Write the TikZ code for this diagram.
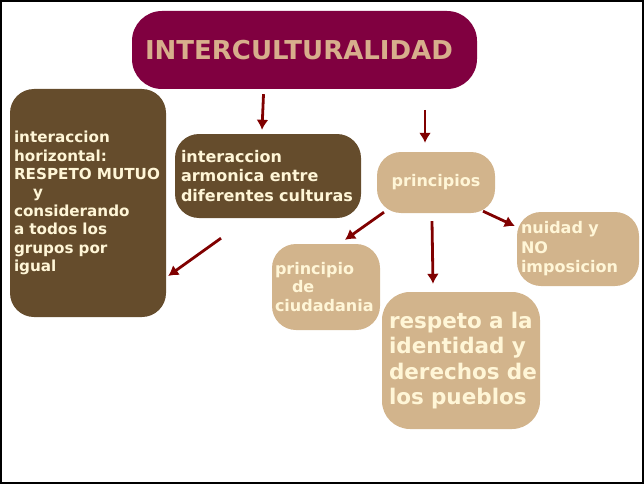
\documentclass[tikz,border=0pt]{standalone}
\usepackage{fontspec}
\setmainfont{DejaVu Sans}
\usepackage{tikz}
\usetikzlibrary{arrows.meta,positioning,calc}

\definecolor{vino}{RGB}{128,0,64}
\definecolor{cafe}{RGB}{101,76,44}
\definecolor{beige}{RGB}{210,180,140}
\definecolor{crema}{RGB}{255,246,215}
\definecolor{durazno}{RGB}{215,174,140}
\definecolor{rojo}{RGB}{128,0,0}

\begin{document}
\begin{tikzpicture}[x=1pt,y=-1pt,
    caja/.style={rounded corners=24pt,text=crema,align=left,inner ysep=0pt,
      font=\bfseries\fontsize{16}{18.5}\selectfont},
    flecha/.style={-{Latex[length=10pt,width=12pt]},line width=2.8pt,draw=rojo}]
    \useasboundingbox (0,0) rectangle (644,484);
    \draw[line width=2pt] (1,1) rectangle (643,483);

    \node[caja,fill=vino,rounded corners=30pt,text=durazno,text width=319pt,inner xsep=13pt,
      minimum height=78pt,font=\bfseries\fontsize{26}{30}\selectfont] at (304.5,50) (tit) {INTERCULTURALIDAD};
    \node[caja,fill=cafe,text width=148pt,inner xsep=4pt,minimum height=228pt,
      font=\bfseries\fontsize{15.2}{18.4}\selectfont] at (88,203) (izq)
      {interaccion\\horizontal:\\\mbox{RESPETO MUTUO}\\\hspace*{19pt}y\\considerando\\a todos los\\grupos por\\igual\\[8pt]};
    \node[caja,fill=cafe,text width=174pt,inner xsep=6pt,minimum height=84pt,
      font=\bfseries\fontsize{16}{19.2}\selectfont] at (268,176) (med)
      {interaccion\\armonica entre\\\mbox{diferentes culturas}};
    \node[caja,fill=beige,align=center,text width=100pt,inner xsep=9pt,minimum height=61pt] at (436,182.5) (prin) {principios};
    \node[caja,fill=beige,text width=102pt,inner xsep=3pt,minimum height=86pt] at (326,287) (ciud)
      {principio\\\hspace*{17pt}de\\ciudadania};
    \node[caja,fill=beige,text width=114pt,inner xsep=4pt,minimum height=74pt,
      font=\bfseries\fontsize{16}{19.5}\selectfont] at (578,249) (nui) {nuidad y\\NO\\imposicion};
    \node[caja,fill=beige,rounded corners=28pt,text width=144pt,inner xsep=7pt,minimum height=137pt,
      font=\bfseries\fontsize{21.5}{25.5}\selectfont] at (461,360.5) (resp)
      {\mbox{respeto a la}\\\mbox{identidad y}\\\mbox{derechos de}\\\mbox{los pueblos}};

    \draw[flecha] ([xshift=-41pt,yshift=-5pt]tit.south) -- ([xshift=-6pt,yshift=4pt]med.north);
    \draw[flecha] ([xshift=-11pt,yshift=42pt]prin.north) -- ([xshift=-11pt,yshift=9pt]prin.north);
    \draw[flecha] ([xshift=-47pt,yshift=-20pt]med.south) -- ([xshift=2pt,yshift=-73pt]izq.east);
    \draw[flecha] ([xshift=-52pt,yshift=1pt]prin.south) -- ([xshift=19pt,yshift=4pt]ciud.north);
    \draw[flecha] ([xshift=-4pt,yshift=-8pt]prin.south) -- ([xshift=-28pt,yshift=8pt]resp.north);
    \draw[flecha] ([xshift=47pt,yshift=2pt]prin.south) -- ([xshift=-2pt,yshift=23pt]nui.west);
\end{tikzpicture}
\end{document}
